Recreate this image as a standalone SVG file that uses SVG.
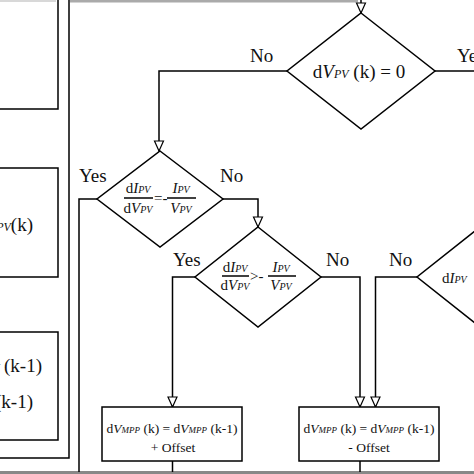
<svg xmlns="http://www.w3.org/2000/svg" width="474" height="474" viewBox="0 0 474 474">
<defs>
<style>
.ln{fill:none;stroke:#000;stroke-width:1.5}
.sh{fill:#fff;stroke:#000;stroke-width:1.5}
text{font-family:"Liberation Serif","Times New Roman",serif;fill:#111}
.lbl{font-size:19px}
.big{font-size:19px}
.fr{font-size:15px}
.bx{font-size:13.5px}
.i{font-style:italic}
.s{font-style:italic;font-size:10px}
.sb{font-style:italic;font-size:12px}
.sl{font-style:italic;font-size:9px}
</style>
<marker id="ah" viewBox="-1 -6 12 12" markerWidth="12" markerHeight="12" refX="10" refY="0" orient="auto" markerUnits="userSpaceOnUse">
<path d="M0,-4.5 L10,0 L0,4.5 Z" fill="#fff" stroke="#000" stroke-width="1.2"/>
</marker>
</defs>
<rect width="474" height="474" fill="#fff"/>
<!-- cropped frame edges -->
<rect x="0" y="0" width="56" height="2" fill="#d8d8d8"/>
<rect x="70" y="0" width="288" height="2.5" fill="#aaa"/>
<rect x="0" y="471" width="474" height="3" fill="#888"/>

<g id="leftFrame">
<path class="ln" d="M69,0 V458 H0"/>
</g>
<g id="boxA"><path class="ln" d="M0,109 H58 V0"/></g>
<g id="boxB">
<path class="ln" d="M0,168 H58 V277 H0"/>
<text class="big" x="33" y="231" text-anchor="end"><tspan class="i">V</tspan><tspan class="sb">PV</tspan>(k)</text>
</g>
<g id="boxC">
<path class="ln" d="M0,332 H58 V440 H0"/>
<text class="big" x="42" y="372" text-anchor="end"><tspan class="i">V</tspan><tspan class="sb">PV</tspan> (k-1)</text>
<text class="big" x="33" y="408" text-anchor="end"><tspan class="i">I</tspan><tspan class="sb">PV</tspan>(k-1)</text>
</g>

<g id="connectors">
<path class="ln" d="M361,0 V13" marker-end="url(#ah)"/>
<path class="ln" d="M287,71 H159 V151" marker-end="url(#ah)"/>
<path class="ln" d="M435,71 H474"/>
<path class="ln" d="M97,199 H79 V472"/>
<path class="ln" d="M223,199 H258 V227" marker-end="url(#ah)"/>
<path class="ln" d="M195,277 H172.5 V407" marker-end="url(#ah)"/>
<path class="ln" d="M321,277 H360 V407" marker-end="url(#ah)"/>
<path class="ln" d="M417,277 H375.5 V407" marker-end="url(#ah)"/>
<path class="ln" d="M172.5,461 V472"/>
<path class="ln" d="M360,461 V472"/>
<text class="lbl" x="250" y="62">No</text>
<text class="lbl" x="457" y="62">Yes</text>
<text class="lbl" x="79" y="182">Yes</text>
<text class="lbl" x="220" y="182">No</text>
<text class="lbl" x="173" y="266">Yes</text>
<text class="lbl" x="326" y="266">No</text>
<text class="lbl" x="389" y="266">No</text>
</g>

<g id="d1">
<polygon class="sh" points="361,13 435,71 361,129 287,71"/>
<text class="big" x="359" y="78" text-anchor="middle">d<tspan class="i">V</tspan><tspan class="sb">PV</tspan> (k) = 0</text>
</g>

<g id="d2">
<polygon class="sh" points="160,151 223,199 160,247 97,199"/>
<text class="fr" x="138" y="193" text-anchor="middle">d<tspan class="i">I</tspan><tspan class="s">PV</tspan></text>
<path class="ln" d="M124,198 H153" stroke-width="1"/>
<text class="fr" x="138" y="213" text-anchor="middle">d<tspan class="i">V</tspan><tspan class="s">PV</tspan></text>
<text class="fr" x="154" y="203">=-</text>
<text class="fr" x="181" y="193" text-anchor="middle"><tspan class="i">I</tspan><tspan class="s">PV</tspan></text>
<path class="ln" d="M167,198 H196" stroke-width="1"/>
<text class="fr" x="181" y="213" text-anchor="middle"><tspan class="i">V</tspan><tspan class="s">PV</tspan></text>
</g>

<g id="d3">
<polygon class="sh" points="258,227 321,277 258,327 195,277"/>
<text class="fr" x="235" y="272" text-anchor="middle">d<tspan class="i">I</tspan><tspan class="s">PV</tspan></text>
<path class="ln" d="M222,276 H249" stroke-width="1"/>
<text class="fr" x="235" y="290" text-anchor="middle">d<tspan class="i">V</tspan><tspan class="s">PV</tspan></text>
<text class="fr" x="250" y="281">&gt;-</text>
<text class="fr" x="281" y="272" text-anchor="middle"><tspan class="i">I</tspan><tspan class="s">PV</tspan></text>
<path class="ln" d="M268,276 H296" stroke-width="1"/>
<text class="fr" x="281" y="290" text-anchor="middle"><tspan class="i">V</tspan><tspan class="s">PV</tspan></text>
</g>

<g id="d4">
<polygon class="sh" points="480,227 543,277 480,327 417,277"/>
<text class="fr" x="442" y="283">d<tspan class="i">I</tspan><tspan class="s">PV</tspan></text>
</g>

<g id="box1">
<rect class="sh" x="102" y="407" width="140" height="54"/>
<text class="bx" x="172" y="433" text-anchor="middle">d<tspan class="i">V</tspan><tspan class="sl">MPP</tspan> (k) = d<tspan class="i">V</tspan><tspan class="sl">MPP</tspan> (k-1)</text>
<text class="bx" x="173" y="452" text-anchor="middle">+ Offset</text>
</g>

<g id="box2">
<rect class="sh" x="299" y="407" width="140" height="54"/>
<text class="bx" x="369" y="433" text-anchor="middle">d<tspan class="i">V</tspan><tspan class="sl">MPP</tspan> (k) = d<tspan class="i">V</tspan><tspan class="sl">MPP</tspan> (k-1)</text>
<text class="bx" x="369" y="452" text-anchor="middle">- Offset</text>
</g>
</svg>
